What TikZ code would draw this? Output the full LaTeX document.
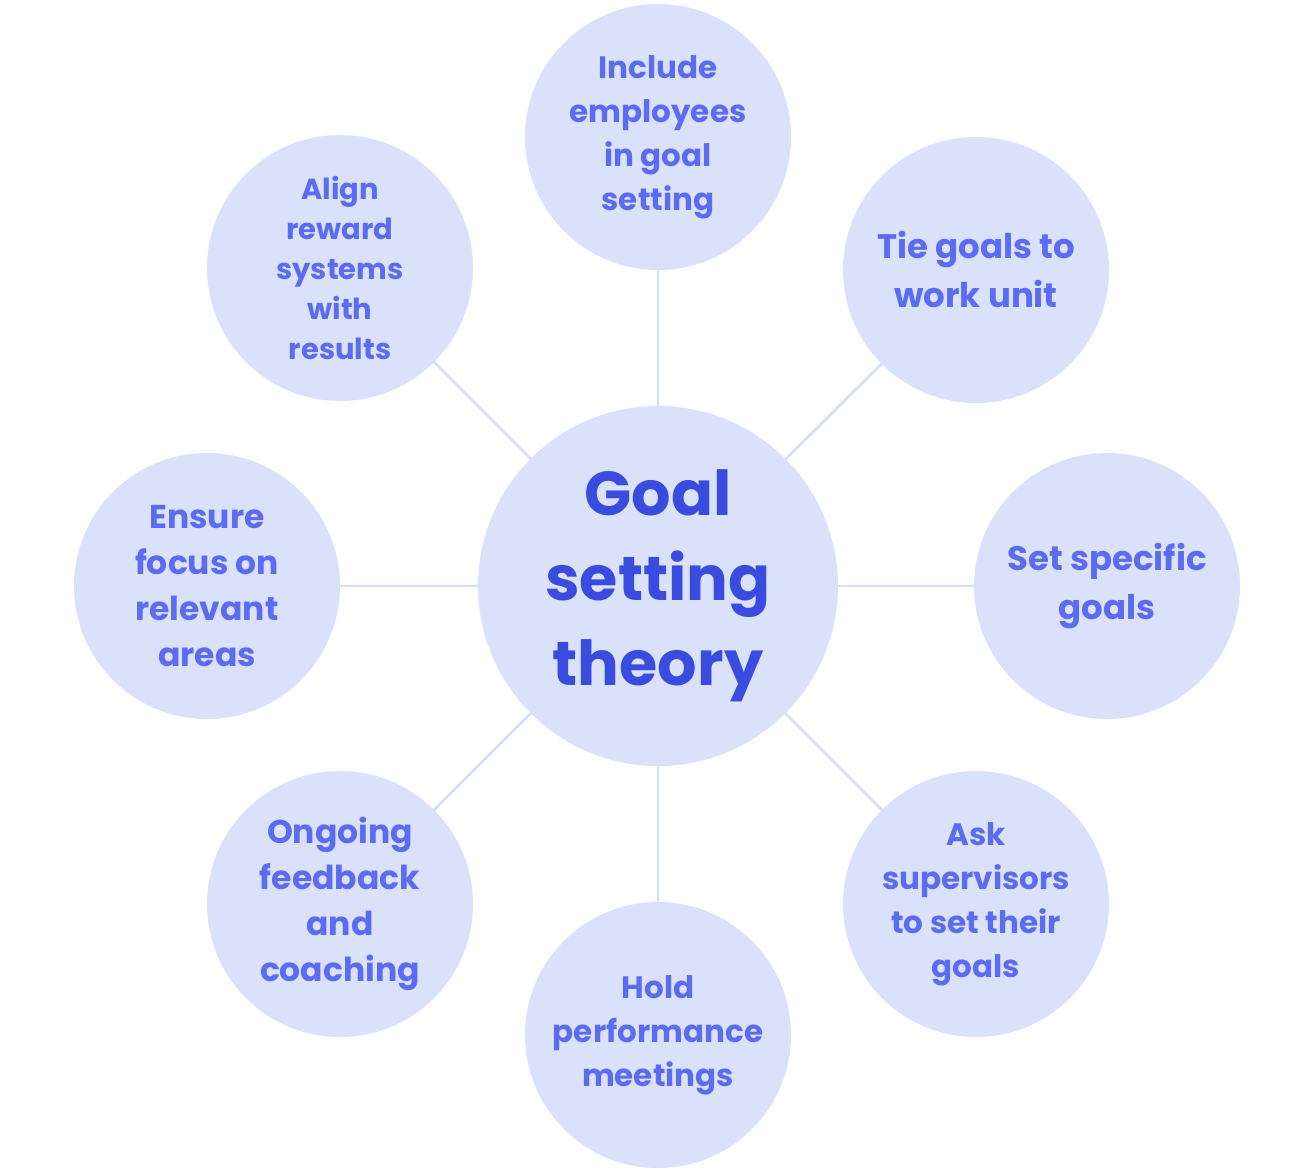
\documentclass[tikz,border=0pt]{standalone}
\usepackage{fontspec}
\setmainfont{Poppins}
\usetikzlibrary{backgrounds}
\definecolor{bubble}{HTML}{DAE1FA}
\definecolor{spoke}{HTML}{D6DDF8}
\definecolor{ink}{HTML}{5B6CF2}
\definecolor{hubink}{HTML}{3A4CE0}
\tikzset{
  leaf/.style={circle,fill=bubble,minimum size=266pt,inner sep=0pt,align=center,
    text=ink,font=\fontsize{31}{44}\selectfont\bfseries},
  hub/.style={circle,fill=bubble,minimum size=360pt,inner sep=0pt,align=center,
    text=hubink,font=\fontsize{62}{85}\selectfont\bfseries},
  spokeline/.style={draw=spoke,line width=2.5pt}
}
\begin{document}
\begin{tikzpicture}[x=1pt,y=-1pt]
  \useasboundingbox (0,0) rectangle (1316,1172);
  \node[hub] (goal) at (658,586) {Goal\\setting\\theory};
  \node[leaf] (include) at (658,137) {Include\\employees\\in goal\\setting};
  \node[leaf,font=\fontsize{34}{49}\selectfont\bfseries] (tie) at (976,270) {Tie goals to\\work unit};
  \node[leaf,font=\fontsize{34}{49}\selectfont\bfseries] (specific) at (1107,586) {Set specific\\goals};
  \node[leaf] (ask) at (976,904) {Ask\\supervisors\\to set their\\goals};
  \node[leaf] (hold) at (658,1035) {Hold\\performance\\meetings};
  \node[leaf,font=\fontsize{33}{46}\selectfont\bfseries] (ongoing) at (340,904) {Ongoing\\feedback\\and\\coaching};
  \node[leaf,font=\fontsize{33}{46}\selectfont\bfseries] (ensure) at (207,586) {Ensure\\focus on\\relevant\\areas};
  \node[leaf,font=\fontsize{29}{40}\selectfont\bfseries] (align) at (340,268) {Align\\reward\\systems\\with\\results};

  % spokes
  \begin{scope}[on background layer]
    \foreach \n in {include,tie,specific,ask,hold,ongoing,ensure,align}
      \draw[spokeline] (goal.center) -- (\n.center);
  \end{scope}
\end{tikzpicture}
\end{document}
